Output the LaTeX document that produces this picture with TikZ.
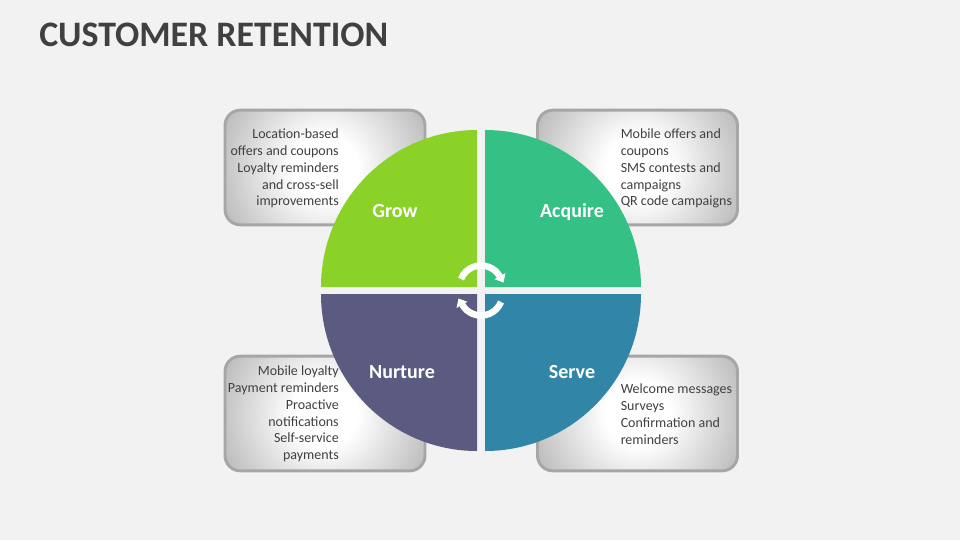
\documentclass[tikz,border=0pt]{standalone}
\usepackage{fontspec}
\setmainfont{Carlito}
\definecolor{boxedge}{HTML}{B0B0B0}
\definecolor{bgc}{HTML}{F2F2F2}
\definecolor{linec}{HTML}{A6A6A6}
\definecolor{txtc}{HTML}{404040}
\definecolor{growc}{HTML}{8AD128}
\definecolor{acqc}{HTML}{35C085}
\definecolor{nurc}{HTML}{5B5A80}
\definecolor{serc}{HTML}{3186A7}
\pgfdeclareradialshading{boxglow}{\pgfpointorigin}{color(0bp)=(white); color(6.5bp)=(white); color(25bp)=(boxedge); color(50bp)=(boxedge)}
\tikzset{
  x=0.75pt,y=-0.75pt,
  infobox/.style={draw=linec,line width=2.2pt,rounded corners=11.5pt,minimum width=150pt,minimum height=86pt,inner sep=0pt,
    path picture={\shade[shading=boxglow] (path picture bounding box.center) circle (94pt);}},
  lefttext/.style={align=right,anchor=north east,text=txtc,font=\fontsize{10.5pt}{12.55pt}\selectfont,inner sep=0pt},
  righttext/.style={align=left,anchor=north west,text=txtc,font=\fontsize{10.5pt}{12.55pt}\selectfont,inner sep=0pt},
  quadlabel/.style={anchor=base,text=white,font=\fontsize{15pt}{17pt}\selectfont\bfseries,inner sep=0pt},
  cyc/.style={draw=white,line width=4.9pt},
  cychead/.style={fill=white,draw=none}
}
\begin{document}
\begin{tikzpicture}
\useasboundingbox[fill=bgc] (0,0) rectangle (960,540);
\node[anchor=west,text=txtc,inner sep=0pt,font=\fontsize{26.9pt}{30pt}\selectfont\bfseries] (title) at (39,35) {CUSTOMER RETENTION};
\node[infobox] (boxgrow) at (325,167.5) {};
\node[infobox] (boxacq) at (637.5,167.5) {};
\node[infobox] (boxnur) at (325,413.5) {};
\node[infobox] (boxser) at (637.5,413.5) {};
\fill[growc] (477,287) -- (321,287) arc[start angle=180,end angle=90,x radius=117pt,y radius=117.75pt] -- cycle;
\fill[acqc] (485,287) -- (485,130) arc[start angle=90,end angle=0,x radius=117pt,y radius=117.75pt] -- cycle;
\fill[nurc] (477,294) -- (477,451) arc[start angle=270,end angle=180,x radius=117pt,y radius=117.75pt] -- cycle;
\fill[serc] (485,294) -- (641,294) arc[start angle=0,end angle=-90,x radius=117pt,y radius=117.75pt] -- cycle;
\node[lefttext] (tgrow) at (339,129) {Location-based\\offers and coupons\\Loyalty reminders\\and cross-sell\\improvements};
\node[righttext] (tacq) at (620.5,129) {Mobile offers and\\coupons\\SMS contests and\\campaigns\\QR code campaigns};
\node[lefttext] (tnur) at (339,366) {Mobile loyalty\\Payment reminders\\Proactive\\notifications\\Self-service\\payments};
\node[righttext] (tser) at (620.5,384) {Welcome messages\\Surveys\\Confirmation and\\reminders};
\node[quadlabel] (lgrow) at (395,217) {Grow};
\node[quadlabel] (lacq) at (572,217) {Acquire};
\node[quadlabel] (lnur) at (402,378) {Nurture};
\node[quadlabel] (lser) at (572,378) {Serve};
\draw[cyc] (461,279) arc[start angle=158,end angle=30,radius=16.2pt];
\fill[cychead] (505.5,273) -- (494.5,279.2) -- (503.5,282.5) -- cycle;
\draw[cyc] (501,302) arc[start angle=-22,end angle=-150,radius=16.2pt];
\fill[cychead] (456.5,308) -- (467.5,301.8) -- (458.5,298.5) -- cycle;
\end{tikzpicture}
\end{document}
